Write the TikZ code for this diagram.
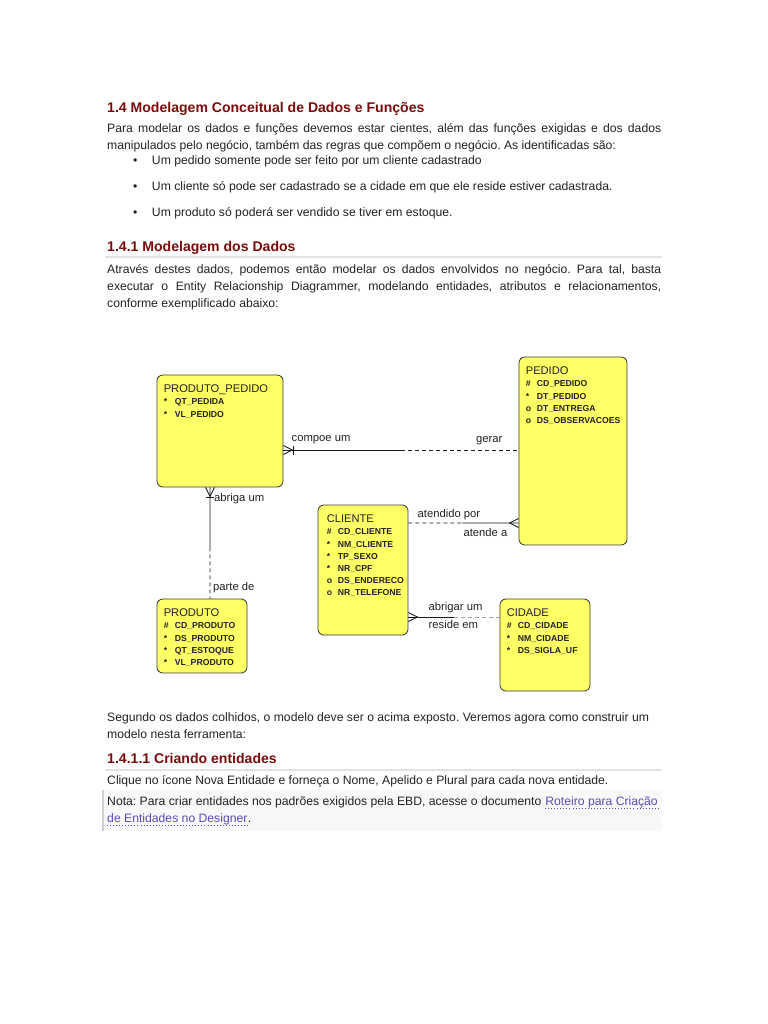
\documentclass[tikz,border=0pt]{standalone}
\usepackage{fontspec}
\setmainfont{Liberation Sans}
\usepackage{xcolor}
\usetikzlibrary{positioning,calc}
\definecolor{ink}{HTML}{222222}
\definecolor{headred}{HTML}{7A0B0B}
\definecolor{ruleline}{HTML}{E2E2E2}
\definecolor{entfill}{HTML}{FFFF66}
\definecolor{entline}{HTML}{3A3A3A}
\definecolor{relline}{HTML}{1A1A1A}
\definecolor{softdash}{HTML}{A0A0A0}
\definecolor{notefill}{HTML}{F8F8F8}
\definecolor{noteline}{HTML}{D0D0D0}
\definecolor{linkblue}{HTML}{5A4DB8}
\newlength\pxu
\setlength\pxu{0.03cm}
\newcommand\entattr[2]{\makebox[11\pxu][l]{#1}#2}
\frenchspacing

\begin{document}
\begin{tikzpicture}[
  x=0.03cm, y=-0.03cm,
  line/.style={anchor=base west, inner sep=0, text=ink, font=\fontsize{10.4}{12}\selectfont},
  head/.style={anchor=base west, inner sep=0, text=headred, font=\fontsize{12}{14}\selectfont\bfseries},
  rulebar/.style={draw=ruleline, line width=1.2pt},
  entity/.style={draw=entline, fill=entfill, rounded corners=5pt, line width=0.7pt, inner sep=0},
  etitle/.style={anchor=base west, inner sep=0, text=ink, font=\fontsize{9.5}{11}\selectfont},
  eattr/.style={anchor=north west, inner sep=0, align=left, text=ink, font=\fontsize{7.4}{10.4}\selectfont\bfseries},
  rel/.style={draw=relline, line width=0.8pt},
  reldash/.style={draw=relline, line width=0.8pt, dash pattern=on 4\pxu off 3\pxu},
  softrel/.style={draw=softdash, line width=0.8pt, dash pattern=on 4\pxu off 3\pxu},
  rellabel/.style={inner sep=0, text=ink, font=\fontsize{9.6}{11}\selectfont},
  linktxt/.style={anchor=base west, inner sep=0, text=linkblue, font=\fontsize{10.4}{12}\selectfont},
  linkline/.style={draw=linkblue, line width=0.6pt, dotted}
]

% canvas
\useasboundingbox (0,0) rectangle (768,1024);

% Section 1.4
\node[head] (h1) at (107,112) {1.4 Modelagem Conceitual de Dados e Funções};
\node[line] (p1a) at (107,132) {\makebox[554\pxu][s]{Para modelar os dados e funções devemos estar cientes, além das funções exigidas e dos dados}};
\node[line] (p1b) at (107,149) {manipulados pelo negócio, também das regras que compõem o negócio. As identificadas são:};

% Rules list
\node[line] (bul1) at (133,164) {•};
\node[line] (bul2) at (133,190) {•};
\node[line] (bul3) at (133,216) {•};
\node[line, base right=14\pxu of bul1] (it1) {Um pedido somente pode ser feito por um cliente cadastrado};
\node[line, base right=14\pxu of bul2] (it2) {Um cliente só pode ser cadastrado se a cidade em que ele reside estiver cadastrada.};
\node[line, base right=14\pxu of bul3] (it3) {Um produto só poderá ser vendido se tiver em estoque.};

% Section 1.4.1
\node[head] (h2) at (107,251) {1.4.1 Modelagem dos Dados};
\draw[rulebar] (105,257) -- (662,257);
\node[line] (p2a) at (107,273) {\makebox[554\pxu][s]{Através destes dados, podemos então modelar os dados envolvidos no negócio. Para tal, basta}};
\node[line] (p2b) at (107,290) {\makebox[554\pxu][s]{executar o Entity Relacionship Diagrammer, modelando entidades, atributos e relacionamentos,}};
\node[line] (p2c) at (107,307) {conforme exemplificado abaixo:};

% Entities
\node[entity, minimum width=126\pxu, minimum height=112\pxu] (prodped) at (220,431) {};
\node[etitle] (prodpedt) at ($(prodped.north west)+(7,18)$) {PRODUTO\_PEDIDO};
\node[eattr] (prodpeda) at ($(prodped.north west)+(7,24)$) {\entattr{*}{QT\_PEDIDA}\\\entattr{*}{VL\_PEDIDO}};

\node[entity, minimum width=108\pxu, minimum height=188\pxu] (pedido) at (573,451) {};
\node[etitle] (pedidot) at ($(pedido.north west)+(7,18)$) {PEDIDO};
\node[eattr] (pedidoa) at ($(pedido.north west)+(7,24)$) {\entattr{\#}{CD\_PEDIDO}\\\entattr{*}{DT\_PEDIDO}\\\entattr{o}{DT\_ENTREGA}\\\entattr{o}{DS\_OBSERVACOES}};

\node[entity, minimum width=90\pxu, minimum height=130\pxu] (cliente) at (363,570) {};
\node[etitle] (clientet) at ($(cliente.north west)+(9,18)$) {CLIENTE};
\node[eattr] (clientea) at ($(cliente.north west)+(9,24)$) {\entattr{\#}{CD\_CLIENTE}\\\entattr{*}{NM\_CLIENTE}\\\entattr{*}{TP\_SEXO}\\\entattr{*}{NR\_CPF}\\\entattr{o}{DS\_ENDERECO}\\\entattr{o}{NR\_TELEFONE}};

\node[entity, minimum width=90\pxu, minimum height=74\pxu] (produto) at (202,636) {};
\node[etitle] (produtot) at ($(produto.north west)+(7,18)$) {PRODUTO};
\node[eattr] (produtoa) at ($(produto.north west)+(7,24)$) {\entattr{\#}{CD\_PRODUTO}\\\entattr{*}{DS\_PRODUTO}\\\entattr{*}{QT\_ESTOQUE}\\\entattr{*}{VL\_PRODUTO}};

\node[entity, minimum width=90\pxu, minimum height=92\pxu] (cidade) at (545,645) {};
\node[etitle] (cidadet) at ($(cidade.north west)+(7,18)$) {CIDADE};
\node[eattr] (cidadea) at ($(cidade.north west)+(7,24)$) {\entattr{\#}{CD\_CIDADE}\\\entattr{*}{NM\_CIDADE}\\\entattr{*}{DS\_SIGLA\_UF}};

% PRODUTO_PEDIDO -- PEDIDO
\coordinate (cpA) at ($(prodped.east)+(0,19)$);
\coordinate (cpB) at (cpA -| pedido.west);
\coordinate (cpM) at ($(cpA)!0.5!(cpB)$);
\draw[rel] (cpA) -- (cpM);
\draw[reldash] (cpM) -- (cpB);
\draw[rel] ($(cpA)+(0,-4.5)$) -- ($(cpA)+(9,0)$) -- ($(cpA)+(0,4.5)$);
\draw[rel] ($(cpA)+(10,-4.5)$) -- ($(cpA)+(10,4.5)$);
\node[rellabel, anchor=base west] (lcompoe) at ($(cpA)+(8,-9)$) {compoe um};
\node[rellabel, anchor=base east] (lgerar) at ($(cpB)+(-16,-8)$) {gerar};

% PRODUTO_PEDIDO -- PRODUTO
\coordinate (abA) at ($(prodped.south)+(-10,0)$);
\coordinate (abB) at (abA |- produto.north);
\coordinate (abM) at ($(abA)!0.54!(abB)$);
\draw[rel] (abA) -- (abM);
\draw[reldash] (abM) -- (abB);
\draw[rel] ($(abA)+(-4.5,0)$) -- ($(abA)+(0,9)$) -- ($(abA)+(4.5,0)$);
\draw[rel] ($(abA)+(-4,10)$) -- ($(abA)+(4,10)$);
\node[rellabel, anchor=base west] (labriga) at ($(abA)+(4,14)$) {abriga um};
\node[rellabel, anchor=base west] (lparte) at ($(abB)+(3,-8)$) {parte de};

% CLIENTE -- PEDIDO
\coordinate (atA) at ($(cliente.east)+(0,-47)$);
\coordinate (atB) at (atA -| pedido.west);
\coordinate (atM) at ($(atA)!0.49!(atB)$);
\draw[reldash] (atA) -- (atM);
\draw[rel] (atM) -- (atB);
\draw[rel] ($(atB)+(0,-4.5)$) -- ($(atB)+(-9,0)$) -- ($(atB)+(0,4.5)$);
\node[rellabel, anchor=base west] (latendido) at ($(atA)+(9,-6)$) {atendido por};
\node[rellabel, anchor=base east] (latende) at ($(atB)+(-11,13)$) {atende a};

% CLIENTE -- CIDADE
\coordinate (rsA) at ($(cliente.east)+(0,47)$);
\coordinate (rsB) at (rsA -| cidade.west);
\coordinate (rsM) at ($(rsA)!0.5!(rsB)$);
\draw[rel] (rsA) -- (rsM);
\draw[softrel] (rsM) -- (rsB);
\draw[rel] ($(rsA)+(0,-4.5)$) -- ($(rsA)+(9,0)$) -- ($(rsA)+(0,4.5)$);
\node[rellabel, anchor=base west] (labrigar) at ($(rsA)+(20,-7)$) {abrigar um};
\node[rellabel, anchor=base west] (lreside) at ($(rsA)+(20,11)$) {reside em};

% After the diagram
\node[line] (p3a) at (107,721) {Segundo os dados colhidos, o modelo deve ser o acima exposto. Veremos agora como construir um};
\node[line] (p3b) at (107,738) {modelo nesta ferramenta:};

% Section 1.4.1.1
\node[head] (h3) at (107,763) {1.4.1.1 Criando entidades};
\draw[rulebar] (105,770) -- (662,770);
\node[line] (p4) at (107,784) {Clique no ícone Nova Entidade e forneça o Nome, Apelido e Plural para cada nova entidade.};

% Note box
\node[fill=notefill, inner sep=0, minimum width=559\pxu, minimum height=41\pxu, anchor=north west] (notabox) at (103,790) {};
\draw[draw=noteline, line width=1.5pt] (notabox.north west) -- (notabox.south west);
\node[line] (nota1) at (107,805) {Nota: Para criar entidades nos padrões exigidos pela EBD, acesse o documento};
\node[linktxt, base right=3.5\pxu of nota1] (link1) {Roteiro para Criação};
\node[linktxt] (link2) at (107,822) {de Entidades no Designer};
\node[line, base right=0 of link2] (nota2) {.};
\draw[linkline] ($(link1.base west)+(0,3)$) -- ($(link1.base east)+(0,3)$);
\draw[linkline] ($(link2.base west)+(0,3)$) -- ($(link2.base east)+(0,3)$);

\end{tikzpicture}
\end{document}
